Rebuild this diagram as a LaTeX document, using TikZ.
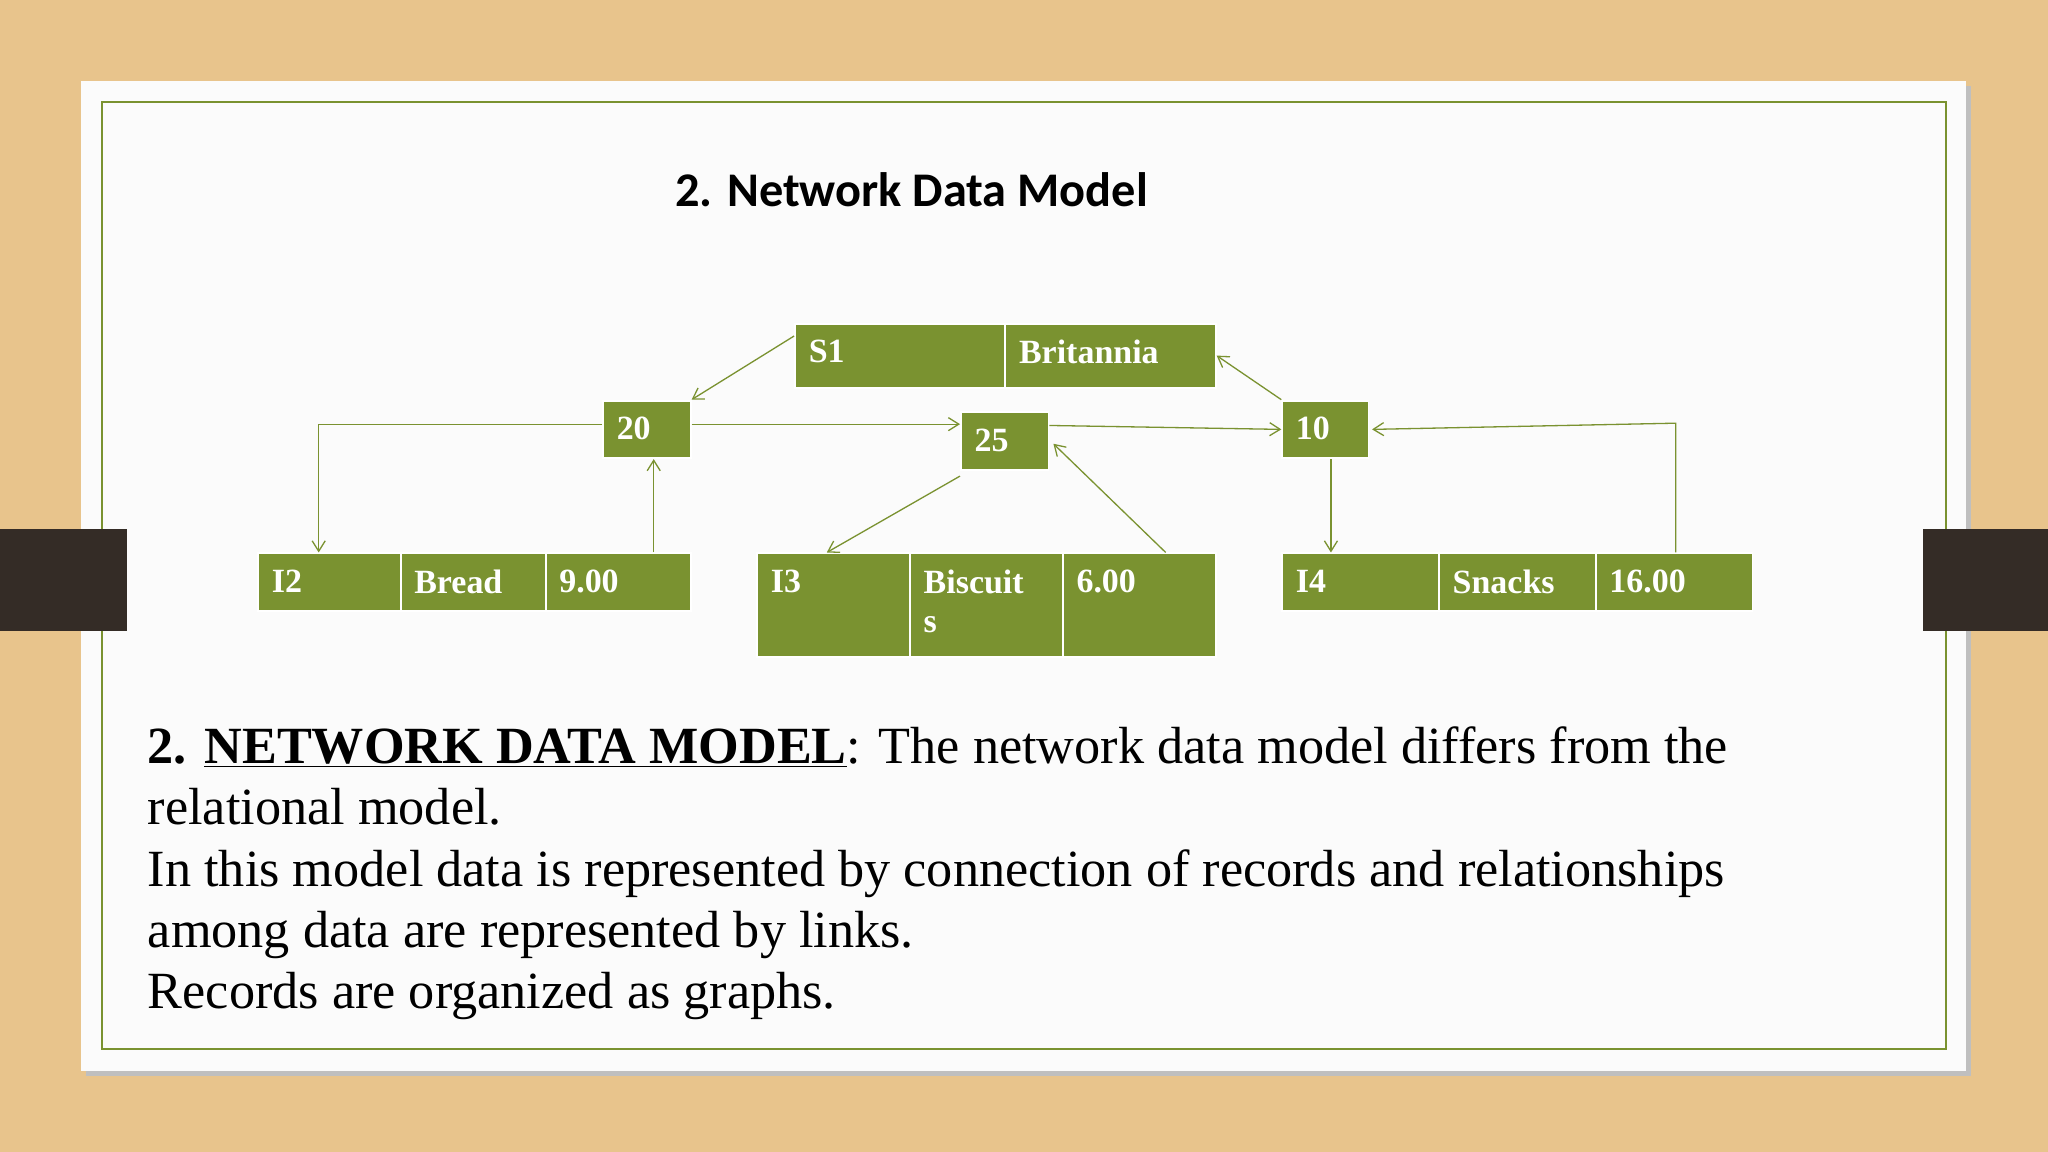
\documentclass[tikz,border=0pt]{standalone}
\usepackage{fontspec}
\setmainfont{Liberation Serif}
\newfontfamily\titlefont{Carlito}
\usetikzlibrary{arrows.meta}
\definecolor{wood}{RGB}{232,196,140}
\definecolor{olive}{RGB}{122,146,48}
\definecolor{dark}{RGB}{52,44,38}
\begin{document}
\begin{tikzpicture}[x=1pt,y=-1pt,
  rec/.style={fill=olive,draw=white,line width=1.5pt,text=white,inner sep=0pt,anchor=north west},
  lnk/.style={draw=olive,line width=1pt,-{Straight Barb[length=8pt,width=10pt]}}]
\useasboundingbox (0,0) rectangle (1568,882);
\fill[wood] (0,0) rectangle (1568,882);
\fill[black!25] (66,66) rectangle (1509,824);
\fill[white!97!gray] (62,62) rectangle (1505,820);
\draw[olive,line width=1.5pt] (78,78) rectangle (1490,803);
\fill[dark] (0,405) rectangle (97,483);
\fill[dark] (1472,405) rectangle (1568,483);
\node[font=\titlefont\bfseries\fontsize{37}{44}\selectfont] (title) at (698,145) {2. Network Data Model};
% record boxes
\newcommand\recbox[6]{\node[rec,minimum width=#4,minimum height=#5] (#1) at (#2,#3) {};
  \node[anchor=north west,text=white,font=\bfseries\fontsize{26}{34}\selectfont,align=left,inner sep=0pt] (#1t) at (#2+11,#3+13) {#6};}
\recbox{s1}{608}{247}{161}{49}{S1}
\recbox{brit}{769}{247}{161}{49}{Britannia}
\recbox{n20}{461}{306}{67}{44}{20}
\recbox{n25}{735}{315}{67}{44}{25}
\recbox{n10}{981}{306}{66}{44}{10}
\recbox{i2}{197}{423}{109}{44}{I2}
\recbox{bread}{306}{423}{111}{44}{Bread}
\recbox{p9}{417}{423}{111}{44}{9.00}
\recbox{i3}{579}{423}{117}{79}{I3}
\recbox{bisc}{696}{423}{117}{79}{Biscuit\\[-4pt]s}
\recbox{p6}{813}{423}{117}{79}{6.00}
\recbox{i4}{981}{423}{120}{44}{I4}
\recbox{snk}{1101}{423}{120}{44}{Snacks}
\recbox{p16}{1221}{423}{120}{44}{16.00}
\coordinate (c16) at (1283,324);
% links
\draw[lnk] ([yshift=15pt]s1.west) -- (n20.north east);
\draw[lnk] (n10.north west) -- (brit.east);
\draw[lnk] ([yshift=4pt]n20.east) -- ([yshift=13pt]n25.west);
\draw[lnk] ([yshift=12pt]n25.east) -- (n10.west);
\draw[lnk] ([yshift=4pt]n20.west) -| ([xshift=47pt]i2.north west);
\draw[lnk] ([xshift=-29pt]p9.north east) -- ([xshift=-29pt]n20.south east);
\draw[lnk] ([yshift=-4pt]n25.south west) -- ([xshift=54pt]i3.north west);
\draw[lnk] ([xshift=-39pt]p6.north east) -- ([xshift=3pt,yshift=-2pt]n25.east);
\draw[lnk] ([xshift=38pt]n10.south west) -- ([xshift=38pt]i4.north west);
\draw[lnk] ([xshift=62pt]p16.north west) -- (c16) -- ([xshift=2pt]n10.east);
% body text
\node[anchor=north west,align=left,inner sep=0pt,font=\fontsize{40}{47}\selectfont] (body) at (113,556)
{\textbf{2. \underline{NETWORK DATA MODEL}}: The network data model differs from the\\
relational model.\\
In this model data is represented by connection of records and relationships\\
among data are represented by links.\\
Records are organized as graphs.};
\end{tikzpicture}
\end{document}
